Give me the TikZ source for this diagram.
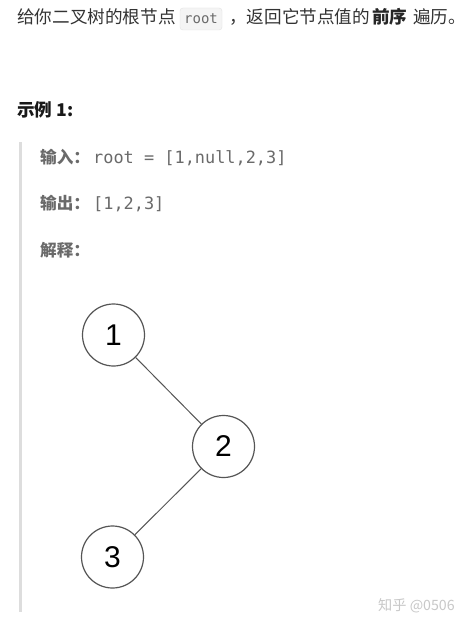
\documentclass[tikz,border=0pt]{standalone}
\usepackage{fontspec}
\setmainfont{Noto Sans CJK SC}
\setmonofont{DejaVu Sans Mono}
\newfontfamily\numfont{Liberation Sans}
\definecolor{txt}{HTML}{333333}
\definecolor{lbl}{HTML}{6A6A6A}
\definecolor{bar}{HTML}{DDDDDD}
\definecolor{codebg}{HTML}{F4F4F4}
\definecolor{codeline}{HTML}{E3E3E3}
\definecolor{ring}{HTML}{555555}
\definecolor{wm}{HTML}{C8C8C8}
\tikzset{
  txtnode/.style={anchor=base west, inner sep=0pt, text=txt, font=\fontsize{17.6}{20}\selectfont},
  lblnode/.style={anchor=base west, inner sep=0pt, text=lbl, font=\fontsize{16.6}{20}\selectfont\bfseries},
  monotxt/.style={anchor=base west, inner sep=0pt, text=lbl, font=\fontsize{16.9}{20}\ttfamily},
  treenode/.style={circle, draw=ring, line width=1.2pt, fill=white, minimum size=62pt, inner sep=0pt, font=\fontsize{30}{30}\numfont},
  treeedge/.style={draw=ring, line width=1pt},
}
\begin{document}
\begin{tikzpicture}[x=1pt,y=-1pt]
\useasboundingbox[fill=white] (0,0) rectangle (465,626);
% first line
\node[txtnode] (t1) at (17,24) {给你二叉树的根节点};
\node[draw=codeline, fill=codebg, rounded corners=3pt, minimum width=42pt, minimum height=22pt, inner sep=0pt, text=lbl, font=\fontsize{14}{16}\ttfamily] (code) at (201,19) {root};
\node[txtnode] (t2) at (229,24) {，返回它节点值的};
\node[txtnode, font=\fontsize{17.6}{20}\selectfont\bfseries, text=black!85] (t3) at (372,24) {前序};
\node[txtnode] (t4) at (413,24) {遍历。};
% example heading
\node[txtnode, font=\fontsize{17.6}{20}\selectfont\bfseries, text=black!90] (ex) at (17,116) {示例 1:};
% quote bar
\fill[bar] (19,142) rectangle (22,612);
% input / output
\node[lblnode] (inl) at (40,163) {输入：};
\node[monotxt] (inv) at (93,163) {root = [1,null,2,3]};
\node[lblnode] (outl) at (40,209) {输出：};
\node[monotxt] (outv) at (93,209) {[1,2,3]};
\node[lblnode] (expl) at (40,256) {解释：};
% tree
\node[treenode] (n1) at (113.5,335) {1};
\node[treenode] (n2) at (223.5,446.5) {2};
\node[treenode] (n3) at (112.5,557) {3};
\draw[treeedge] (n1) -- (n2);
\draw[treeedge] (n2) -- (n3);
% watermark
\node[anchor=base west, inner sep=0pt, text=wm, font=\fontsize{14.2}{16}\selectfont] (wm) at (378,610) {知乎 @0506};
\end{tikzpicture}
\end{document}
